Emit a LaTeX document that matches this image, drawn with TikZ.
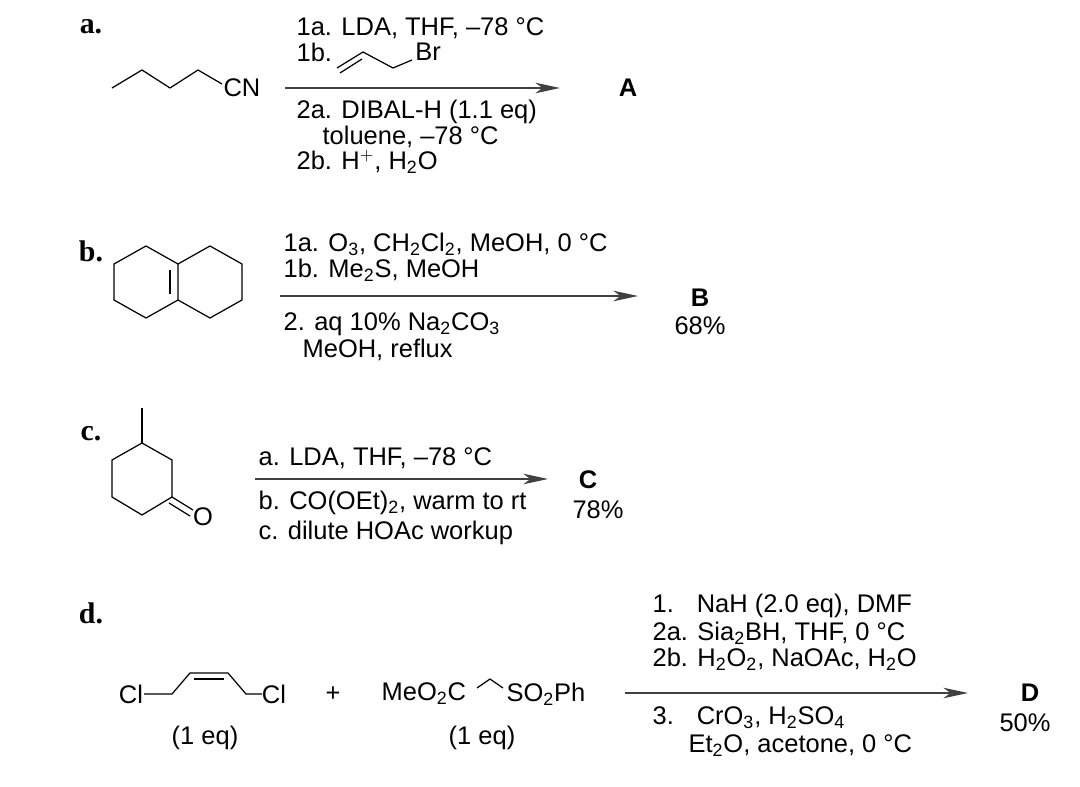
\documentclass[tikz,border=0pt]{standalone}
\usepackage{fontspec}
\setmainfont{Liberation Sans}
\newfontfamily\lblfont{Liberation Serif}
\usetikzlibrary{arrows.meta}
\begin{document}
\begin{tikzpicture}[x=0.02cm,y=-0.02cm,line width=0.7pt,
  txt/.style={anchor=west,inner sep=0pt,font=\fontsize{14.5}{17}\selectfont},
  ctr/.style={inner sep=0pt,font=\fontsize{14.5}{17}\selectfont},
  prod/.style={inner sep=0pt,font=\fontsize{14.5}{17}\selectfont\bfseries},
  lbl/.style={inner sep=0pt,font=\fontsize{17}{20}\selectfont\lblfont\bfseries},
  rxn/.style={-{Stealth[length=14pt,width=6pt,inset=4pt]},draw=black!75,line width=0.8pt}]
\useasboundingbox (0,0) rectangle (1080,787);
% ---------- a ----------
\node[lbl] (la) at (91,27) {a.};
\draw (112,88) -- (142,70) -- (170,88) -- (198,70) -- (222,84);
\node[ctr] (cn) at (242,88) {CN};
\coordinate (a1) at (285,88); \coordinate (a2) at (560,88);
\draw[rxn] (a1) -- (a2);
\node[prod] (A) at (628,88) {A};
\node[txt] at (296,28) {1a. LDA, THF, –78 °C};
\node[txt] at (296,52) {1b.};
\draw (337,68) -- (363,52) -- (393,68) -- (412,60);
\draw (340,73) -- (362,59);
\node[ctr] at (428,52) {Br};
\node[txt] at (296,112) {2a. DIBAL-H (1.1 eq)};
\node[txt] at (322,137) {toluene, –78 °C};
\node[txt] at (296,162) {2b. H$^{+}$, H\textsubscript{2}O};
% ---------- b ----------
\node[lbl] (lb) at (91,251) {b.};
\begin{scope}[shift={(178,282)}]
\draw (0,-18) -- (-32,-36) -- (-64,-18) -- (-64,18) -- (-32,36) -- (0,18) -- cycle;
\draw (0,-18) -- (32,-36) -- (64,-18) -- (64,18) -- (32,36) -- (0,18);
\draw (-8,-12) -- (-8,12);
\end{scope}
\coordinate (b1) at (280,296); \coordinate (b2) at (638,296);
\draw[rxn] (b1) -- (b2);
\node[txt] at (283,244) {1a. O\textsubscript{3}, CH\textsubscript{2}Cl\textsubscript{2}, MeOH, 0 °C};
\node[txt] at (283,270) {1b. Me\textsubscript{2}S, MeOH};
\node[txt] at (283,324) {2. aq 10\% Na\textsubscript{2}CO\textsubscript{3}};
\node[txt] at (302,350) {MeOH, reflux};
\node[prod] (B) at (700,298) {B};
\node[ctr] at (700,326) {68\%};
% ---------- c ----------
\node[lbl] (lc) at (91,434) {c.};
\draw (142,408) -- (142,443);
\draw (142,443) -- (172,460) -- (172,497) -- (142,515) -- (112,497) -- (112,460) -- cycle;
\draw (172,497) -- (193,510);
\draw (169,503) -- (190,516);
\node[ctr] (O) at (203,517) {O};
\coordinate (c1) at (255,479); \coordinate (c2) at (548,479);
\draw[rxn] (c1) -- (c2);
\node[txt] at (258,458) {a. LDA, THF, –78 °C};
\node[txt] at (258,503) {b. CO(OEt)\textsubscript{2}, warm to rt};
\node[txt] at (258,533) {c. dilute HOAc workup};
\node[prod] (C) at (588,480) {C};
\node[ctr] at (598,510) {78\%};
% ---------- d ----------
\node[lbl] (ld) at (91,613) {d.};
\node[ctr] (cl1) at (131,694) {Cl};
\draw (144,694) -- (172,694) -- (190,673) -- (228,673) -- (246,694) -- (262,694);
\draw (194,679) -- (224,679);
\node[ctr] (cl2) at (274,694) {Cl};
\node[ctr] at (333,694) {+};
\node[txt] at (381,694) {MeO\textsubscript{2}C};
\draw (477,688) -- (490,679) -- (503,688);
\node[txt] at (506,694) {SO\textsubscript{2}Ph};
\node[ctr] at (205,738) {(1 eq)};
\node[ctr] at (482,738) {(1 eq)};
\coordinate (d1) at (625,693); \coordinate (d2) at (968,693);
\draw[rxn] (d1) -- (d2);
\node[txt] at (652,606) {1.\hspace{0.9em}NaH (2.0 eq), DMF};
\node[txt] at (652,633) {2a. Sia\textsubscript{2}BH, THF, 0 °C};
\node[txt] at (652,659) {2b. H\textsubscript{2}O\textsubscript{2}, NaOAc, H\textsubscript{2}O};
\node[txt] at (652,718) {3.\hspace{0.9em}CrO\textsubscript{3}, H\textsubscript{2}SO\textsubscript{4}};
\node[txt] at (688,746) {Et\textsubscript{2}O, acetone, 0 °C};
\node[prod] (D) at (1030,693) {D};
\node[ctr] at (1025,723) {50\%};
\end{tikzpicture}
\end{document}
